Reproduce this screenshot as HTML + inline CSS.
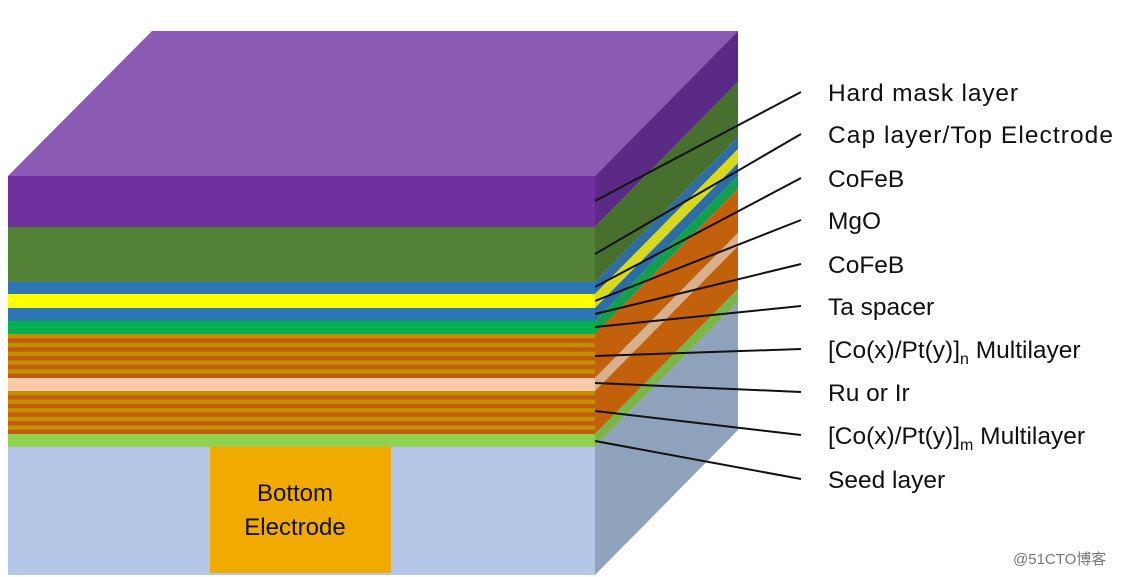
<!DOCTYPE html>
<html><head><meta charset="utf-8"><style>
html,body{margin:0;padding:0;background:#fff;overflow:hidden;width:1123px;height:577px;}
svg{display:block;}
text{font-family:"Liberation Sans","Noto Sans CJK SC",sans-serif;fill:#111;}
</style></head><body>
<svg width="1123" height="577" viewBox="0 0 1123 577" xmlns="http://www.w3.org/2000/svg">
<defs>
<pattern id="st" x="0" y="334" width="10" height="8.8" patternUnits="userSpaceOnUse">
<rect width="10" height="4.4" fill="#c09000"/><rect y="4.4" width="10" height="4.4" fill="#c55a11"/>
</pattern>
<pattern id="st2" x="0" y="391" width="10" height="8.6" patternUnits="userSpaceOnUse">
<rect width="10" height="4.3" fill="#c09000"/><rect y="4.3" width="10" height="4.3" fill="#c55a11"/>
</pattern>
</defs>
<polygon points="8,176 152,31 738,31 595,176" fill="#8b5ab2"/>
<rect x="8" y="176" width="587" height="51" fill="#7030a0"/>
<rect x="8" y="227" width="587" height="55" fill="#538135"/>
<rect x="8" y="282" width="587" height="12" fill="#2e75b6"/>
<rect x="8" y="294" width="587" height="14" fill="#ffff00"/>
<rect x="8" y="308" width="587" height="13" fill="#2e75b6"/>
<rect x="8" y="321" width="587" height="13" fill="#00b050"/>
<rect x="8" y="334" width="587" height="44" fill="url(#st)"/>
<rect x="8" y="378" width="587" height="13" fill="#f8cbad"/>
<rect x="8" y="391" width="587" height="43" fill="url(#st2)"/>
<rect x="8" y="434" width="587" height="13" fill="#92d050"/>
<rect x="8" y="447" width="587" height="128" fill="#b4c7e7"/>
<rect x="210" y="447" width="181" height="126" fill="#f0aa00"/>
<text x="295" y="501" font-size="24" text-anchor="middle">Bottom</text>
<text x="295" y="535" font-size="24" text-anchor="middle">Electrode</text>
<polygon points="595,176 738,31 738,82 595,227" fill="#5b2a86"/>
<polygon points="595,227 738,82 738,137 595,282" fill="#47702f"/>
<polygon points="595,282 738,137 738,149 595,294" fill="#2d6ca4"/>
<polygon points="595,294 738,149 738,163 595,308" fill="#d8d81c"/>
<polygon points="595,308 738,163 738,176 595,321" fill="#2d6ca4"/>
<polygon points="595,321 738,176 738,189 595,334" fill="#10a04e"/>
<polygon points="595,334 738,189 738,233 595,378" fill="#c3600c"/>
<polygon points="595,378 738,233 738,246 595,391" fill="#d9b08e"/>
<polygon points="595,391 738,246 738,289 595,434" fill="#c3600c"/>
<polygon points="595,434 738,289 738,302 595,447" fill="#7cb548"/>
<polygon points="595,447 738,302 738,430 595,575" fill="#8ea2bc"/>
<g stroke="#111" stroke-width="2" fill="none">
<line x1="595" y1="201" x2="801" y2="92"/>
<line x1="595" y1="254" x2="801" y2="134"/>
<line x1="595" y1="287" x2="801" y2="178"/>
<line x1="595" y1="301" x2="801" y2="220"/>
<line x1="595" y1="314" x2="801" y2="264"/>
<line x1="595" y1="327" x2="801" y2="306"/>
<line x1="595" y1="356" x2="801" y2="349"/>
<line x1="595" y1="383" x2="801" y2="392"/>
<line x1="595" y1="411" x2="801" y2="435"/>
<line x1="595" y1="441" x2="801" y2="479"/>
</g>
<g font-size="24.5">
<text x="828" y="101" textLength="190">Hard mask layer</text>
<text x="828" y="143" textLength="285">Cap layer/Top Electrode</text>
<text x="828" y="187">CoFeB</text>
<text x="828" y="229">MgO</text>
<text x="828" y="273">CoFeB</text>
<text x="828" y="315">Ta spacer</text>
<text x="828" y="358">[Co(x)/Pt(y)]<tspan font-size="16" dy="6">n</tspan><tspan dy="-6"> Multilayer</tspan></text>
<text x="828" y="401">Ru or Ir</text>
<text x="828" y="444">[Co(x)/Pt(y)]<tspan font-size="16" dy="6">m</tspan><tspan dy="-6"> Multilayer</tspan></text>
<text x="828" y="488">Seed layer</text>
</g>
<text x="1013" y="564" font-size="15" style="fill:#777">@51CTO博客</text>
</svg>
</body></html>
